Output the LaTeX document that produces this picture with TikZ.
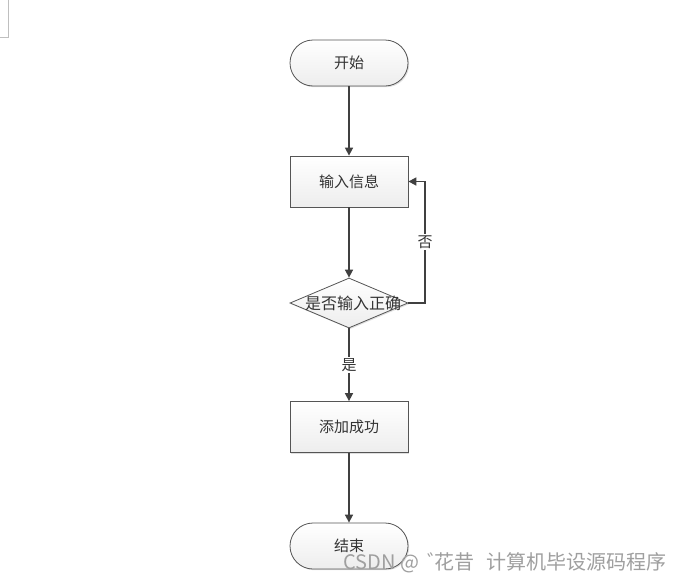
\documentclass[tikz,border=0pt]{standalone}
\usepackage{fontspec}
\newfontfamily\cjk{Noto Sans CJK SC}
\usetikzlibrary{shapes.geometric,arrows.meta,shadows}
\definecolor{edge}{HTML}{404040}
\definecolor{border}{HTML}{555555}
\begin{document}
\begin{tikzpicture}[x=1pt,y=-1pt,
  shapebase/.style={draw=border, line width=0.8pt, top color=white, bottom color=gray!14,
    drop shadow={shadow xshift=1.2pt, shadow yshift=-1.2pt, opacity=0.25, fill=gray},
    font=\cjk\fontsize{15}{17}\selectfont, text=black!80, inner sep=0pt},
  terminal/.style={shapebase, rectangle, rounded corners=23pt, minimum width=118pt, minimum height=46pt},
  process/.style={shapebase, rectangle, minimum width=118pt, minimum height=51pt},
  decision/.style={shapebase, diamond, minimum width=118pt, minimum height=50pt},
  flow/.style={draw=edge, line width=1.6pt, -{Triangle[length=8pt,width=8pt]}},
  lbl/.style={fill=white, inner sep=1.5pt, font=\cjk\fontsize{15}{17}\selectfont, text=black!80}]
\useasboundingbox (0,0) rectangle (682,581);
\fill[white] (0,0) rectangle (682,581);
\draw[gray!50, line width=0.8pt] (0,37) -- (8,37) -- (8,0);
\node[terminal] (start) at (349,63) {开始};
\node[process] (input) at (349,181.5) {输入信息};
\node[decision, label={[xshift=4pt]center:{\cjk\fontsize{16}{18}\selectfont\color{black!80}是否输入正确}}] (check) at (349,303) {};
\node[process] (ok) at (349,427) {添加成功};
\node[terminal] (end) at (349,546) {结束};
\coordinate (loop) at (425,303);
\draw[flow] (start) -- (input);
\draw[flow] (input) -- (check);
\draw[flow] (check.east) -- (loop) |- node[pos=0.25, lbl] {否} (input.east);
\draw[flow] (check) -- node[lbl] {是} (ok);
\draw[flow] (ok) -- (end);
\node[anchor=west, text=gray!75, inner sep=0pt, font=\cjk\fontsize{20}{22}\selectfont] (wm) at (343,563) {CSDN @\hspace{9pt}゛\hspace{-13pt}花昔\hspace{12pt}计算机毕设源码程序};
\end{tikzpicture}
\end{document}
